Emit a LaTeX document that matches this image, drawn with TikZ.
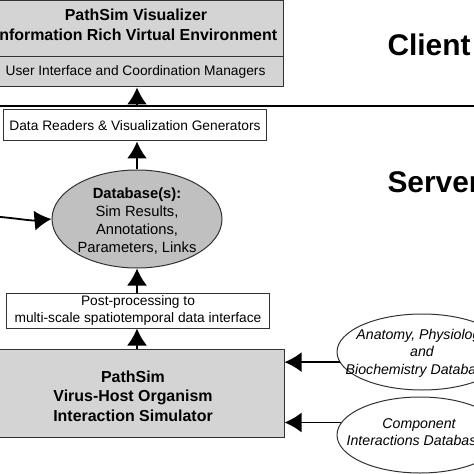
\documentclass[tikz,border=0pt]{standalone}
\usepackage{fontspec}
\setmainfont{Liberation Sans}
\usetikzlibrary{arrows.meta,calc,shapes.geometric}
\definecolor{boxgray}{RGB}{212,212,212}
\definecolor{ellgray}{RGB}{192,192,192}
\definecolor{edgegray}{RGB}{50,50,50}
\tikzset{
  boxbase/.style={draw=edgegray, line width=1bp, inner sep=0pt, align=center},
  graybox/.style={boxbase, fill=boxgray},
  whitebox/.style={boxbase, fill=white},
  dbell/.style={ellipse, draw=edgegray, line width=1bp, fill=ellgray, inner sep=0pt},
  srcell/.style={ellipse, draw=edgegray, line width=1bp, fill=white, inner sep=0pt},
  lbl/.style={inner sep=0pt, align=center},
  conn/.style={line width=1.8bp, -{Latex[length=17bp,width=20bp]}},
  bigtxt/.style={font=\fontsize{16}{19.7}\selectfont\bfseries},
  midtxt/.style={font=\fontsize{13.8}{17}\selectfont},
  elltxt/.style={font=\fontsize{14.8}{18}\selectfont},
  srctxt/.style={font=\fontsize{14.2}{17.7}\selectfont\itshape},
  sidetxt/.style={font=\fontsize{30}{34}\selectfont\bfseries}
}
\begin{document}
\begin{tikzpicture}[x=1bp,y=-1bp]
\useasboundingbox (0,0) rectangle (474,474);
\clip (0,0) rectangle (474,474);
\fill[white] (0,0) rectangle (474,474);

% client side
\node[graybox, minimum width=296bp, minimum height=57bp] (vis) at (135.5,29) {};
\node[lbl, bigtxt] (vislbl) at (136,25)
  {PathSim Visualizer\\Information Rich Virtual Environment};
\node[graybox, midtxt, minimum width=296bp, minimum height=30bp] (ui) at (135.5,72)
  {User Interface and Coordination Managers};
\node[sidetxt, anchor=west] (client) at (384,45) {Client};

% divider
\coordinate (dl) at (-5,106);
\coordinate (dr) at (480,106);
\draw[line width=2bp] (dl) -- (dr);
\coordinate (uiin) at (137,106);
\draw[conn] (uiin) -- (uiin |- ui.south);

% server side
\node[sidetxt, anchor=west] (server) at (384,182) {Server};
\node[whitebox, midtxt, minimum width=262bp, minimum height=31bp] (data) at (135,125.5)
  {Data Readers \& Visualization Generators};
\node[dbell, minimum width=170bp, minimum height=98bp] (db) at (137,219) {};
\node[lbl, elltxt] (dblbl) at (137,221)
  {\textbf{Database(s):}\\Sim Results,\\Annotations,\\Parameters, Links};
\node[whitebox, midtxt, minimum width=262bp, minimum height=35bp] (post) at (138,310.5)
  {Post-processing to\\multi-scale spatiotemporal data interface};
\node[graybox, minimum width=304bp, minimum height=88bp] (sim) at (132,393) {};
\node[lbl, bigtxt] (simlbl) at (133,396)
  {PathSim\\Virus-Host Organism\\Interaction Simulator};
\node[srcell, minimum width=170bp, minimum height=76bp] (anat) at (422,352) {};
\node[lbl, srctxt] (anatlbl) at (422,353)
  {Anatomy, Physiology\\and\\Biochemistry Databases};
\node[srcell, minimum width=166bp, minimum height=76bp] (comp) at (420,435) {};
\node[lbl, srctxt] (complbl) at (419,432)
  {Component\\Interactions Databases};

\draw[conn] (db.north) -- (db.north |- data.south);
\draw[conn] (post.north -| db.south) -- (db.south);
\draw[conn] (sim.north -| db.south) -- (db.south |- post.south);
\draw[conn] (anat.187) -- (anat.187 -| sim.east);
\draw[conn] (comp.171) -- (comp.171 -| sim.east);

\coordinate (lft) at (-25,215);
\draw[conn] (lft) .. controls (10,217) and (30,221) .. (db.west);
\end{tikzpicture}
\end{document}
